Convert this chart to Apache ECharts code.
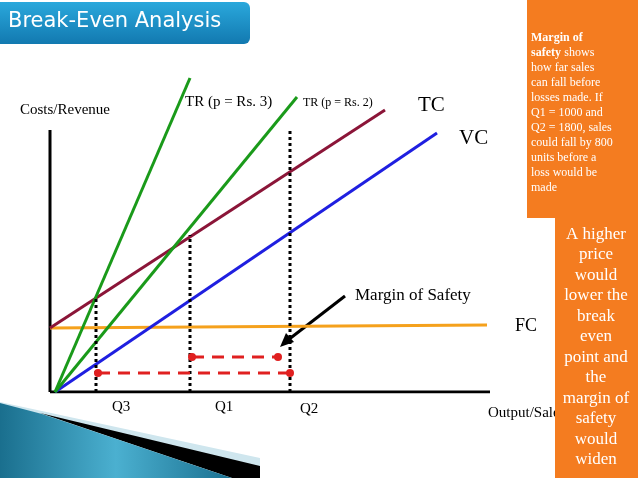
<!DOCTYPE html><html><head><meta charset="utf-8">
<script src="https://cdn.jsdelivr.net/npm/echarts@6/dist/echarts.min.js"></script>
<style>html,body{margin:0;padding:0;background:#fff}#c{width:638px;height:478px}</style></head><body><div id="c"></div>
<script>
// Data in chart units (output vs costs/revenue)
const TC = [[0,64],[335,282]];
const VC = [[5,0],[387,259]];
const FC = [[0,64],[437,67]];
const TR3 = [[5,0],[140,314]];
const TR2 = [[5,0],[247,295]];
const Q3 = [[46,0],[46,95]];
const Q1 = [[140,0],[140,157]];
const Q2 = [[240,0],[240,264]];
const MS1 = [[142,35],[228,35]];
const MS2 = [[48,19],[240,19]];
const AXY = [[0,0],[0,262]];
const AXX = [[0,0],[440,0]];

const chart = echarts.init(document.getElementById('c'));
const ln = (data,color,width,type,extra)=>Object.assign({type:'line',data,symbol:'none',lineStyle:{color,width,type:type||'solid'},silent:true,z:3},extra||{});
const T = (x,y,text,size,extra)=>({type:'text',x,y,style:Object.assign({text,font:`${size}px "Liberation Serif", serif`,fill:'#000'},extra||{})});
chart.setOption({
 animation:false,
 grid:{left:50,right:148,top:60,bottom:86},
 xAxis:{type:'value',min:0,max:440,show:false},
 yAxis:{type:'value',min:0,max:332,show:false},
 series:[
  ln(AXY,'#000',3),ln(AXX,'#000',3),
  ln(FC,'#f5a11c',3),
  ln(TC,'#8b1538',3),
  ln(VC,'#1f1fe0',3),
  ln(TR3,'#1a9a1a',3),
  ln(TR2,'#1a9a1a',3),
  ln(Q3,'#000',3,[3,3]),ln(Q1,'#000',3,[3,3]),ln(Q2,'#000',3,[3,3]),
  Object.assign(ln(MS1,'#e02020',3,[12,8]),{symbol:'circle',symbolSize:8,itemStyle:{color:'#e02020'}}),
  Object.assign(ln(MS2,'#e02020',3,[12,8]),{symbol:'circle',symbolSize:8,itemStyle:{color:'#e02020'}})
 ],
 graphic:[
  {type:'rect',shape:{x:-6,y:2,width:256,height:42,r:6},style:{fill:new echarts.graphic.LinearGradient(0,0,0,1,[{offset:0,color:'#2aa8dc'},{offset:1,color:'#1279b0'}])}},
  {type:'text',x:8,y:11,style:{text:'Break-Even Analysis',font:'21px "DejaVu Sans", sans-serif',fill:'#fff'}},
  {type:'polygon',shape:{points:[[0,402],[260,458],[260,478],[0,420]]},style:{fill:'#cfe6ee'}},
  {type:'polygon',shape:{points:[[40,413],[260,466],[260,478],[232,478]]},style:{fill:'#000'}},
  {type:'polygon',shape:{points:[[0,403],[42,414],[232,478],[0,478]]},style:{fill:new echarts.graphic.LinearGradient(0,0,1,0,[{offset:0,color:'#1a6f8e'},{offset:0.5,color:'#4bb0d0'},{offset:1,color:'#1a7090'}])}},
  T(20,103,'Costs/Revenue',15),
  T(185,95,'TR (p = Rs. 3)',15),
  T(303,97,'TR (p = Rs. 2)',12),
  T(418,95,'TC',21),
  T(459,128,'VC',21),
  T(515,317,'FC',18),
  T(355,287,'Margin of Safety',17),
  T(112,400,'Q3',15),T(215,400,'Q1',15),T(300,402,'Q2',15),
  T(488,406,'Output/Sales',15),
  {type:'line',shape:{x1:345,y1:296,x2:288,y2:340},style:{stroke:'#000',lineWidth:3}},
  {type:'polygon',shape:{points:[[280,347],[286,333],[294,342]]},style:{fill:'#000'}},
  {type:'rect',shape:{x:527,y:0,width:111,height:218},style:{fill:'#f47c20'}},
  {type:'text',x:531,y:30,style:{rich:{b:{font:'bold 12px "Liberation Serif", serif',fill:'#fff',lineHeight:15},n:{font:'12px "Liberation Serif", serif',fill:'#fff',lineHeight:15}},text:'{b|Margin of}\n{b|safety} {n|shows}\n{n|how far sales}\n{n|can fall before}\n{n|losses made. If}\n{n|Q1 = 1000 and}\n{n|Q2 = 1800, sales}\n{n|could fall by 800}\n{n|units before a}\n{n|loss would be}\n{n|made}'}},
  {type:'rect',shape:{x:555,y:218,width:83,height:260},style:{fill:'#f47c20'}},
  {type:'text',x:596,y:224,style:{text:'A higher\nprice\nwould\nlower the\nbreak\neven\npoint and\nthe\nmargin of\nsafety\nwould\nwiden',font:'17px "Liberation Serif", serif',fill:'#fff',align:'center',lineHeight:20.5}}
 ]
});
</script></body></html>
